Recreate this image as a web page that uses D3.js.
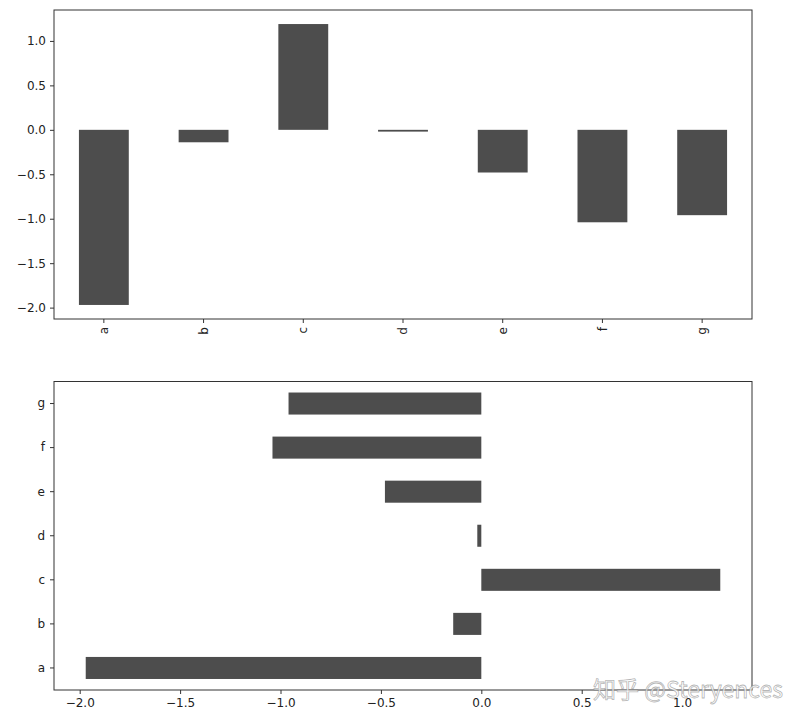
<!DOCTYPE html>
<html>
<head>
<meta charset="utf-8">
<script src="https://cdn.jsdelivr.net/npm/d3@7"></script>
<style>
  body { margin: 0; background: #fff; }
  svg text { font-family: "DejaVu Sans", sans-serif; }
</style>
</head>
<body>
<svg id="chart" width="804" height="725"></svg>
<script>
// data
const categories = ['a', 'b', 'c', 'd', 'e', 'f', 'g'];
const values = [-1.97, -0.14, 1.19, -0.02, -0.48, -1.04, -0.96];
const tickValues = [-2.0, -1.5, -1.0, -0.5, 0.0, 0.5, 1.0];

const barColor = '#4d4d4d';
const axisColor = '#333';
const fmt = d => d3.format('.1f')(d).replace('-', '\u2212');

const svg = d3.select('#chart');

// matplotlib-like 5% margin around the data
const lo = d3.min(values.concat([0])), hi = d3.max(values.concat([0]));
const pad = (hi - lo) * 0.05;
const valueDomain = [lo - pad, hi + pad];

// ---------- top: vertical bars ----------
let box1 = {left: 54, right: 752, top: 10, bottom: 319};

let x1 = d3.scaleBand()
    .domain(categories)
    .range([box1.left, box1.right])
    .paddingInner(0.5)
    .paddingOuter(0.25);

let y1 = d3.scaleLinear()
    .domain(valueDomain)
    .range([box1.bottom, box1.top]);

let g1 = svg.append('g');

g1.selectAll('rect')
    .data(values)
    .enter().append('rect')
    .attr('x', (d, i) => x1(categories[i]))
    .attr('width', x1.bandwidth())
    .attr('y', d => y1(Math.max(0, d)))
    .attr('height', d => Math.max(1, Math.abs(y1(d) - y1(0))))
    .attr('fill', barColor);

g1.append('g')
    .attr('transform', 'translate(' + box1.left + ',0)')
    .call(d3.axisLeft(y1).tickValues(tickValues).tickFormat(fmt).tickSize(4).tickPadding(4));

let xAxis1 = g1.append('g')
    .attr('transform', 'translate(0,' + box1.bottom + ')')
    .call(d3.axisBottom(x1).tickSize(4).tickPadding(4));

xAxis1.selectAll('text')
    .attr('transform', 'rotate(-90)')
    .attr('x', -8)
    .attr('y', 0)
    .attr('dy', '0.35em')
    .attr('text-anchor', 'end');

g1.append('rect')
    .attr('x', box1.left)
    .attr('y', box1.top)
    .attr('width', box1.right - box1.left)
    .attr('height', box1.bottom - box1.top)
    .attr('fill', 'none')
    .attr('stroke', axisColor)
    .attr('stroke-width', 1);

// ---------- bottom: horizontal bars ----------
let box2 = {left: 54, right: 752, top: 381.5, bottom: 690};

let y2 = d3.scaleBand()
    .domain(categories.slice().reverse())
    .range([box2.top, box2.bottom])
    .paddingInner(0.5)
    .paddingOuter(0.25);

let x2 = d3.scaleLinear()
    .domain(valueDomain)
    .range([box2.left, box2.right]);

let g2 = svg.append('g');

g2.selectAll('rect')
    .data(values)
    .enter().append('rect')
    .attr('y', (d, i) => y2(categories[i]))
    .attr('height', y2.bandwidth())
    .attr('x', d => x2(Math.min(0, d)))
    .attr('width', d => Math.max(1, Math.abs(x2(d) - x2(0))))
    .attr('fill', barColor);

g2.append('g')
    .attr('transform', 'translate(' + box2.left + ',0)')
    .call(d3.axisLeft(y2).tickSize(4).tickPadding(5));

g2.append('g')
    .attr('transform', 'translate(0,' + box2.bottom + ')')
    .call(d3.axisBottom(x2).tickValues(tickValues).tickFormat(fmt).tickSize(4).tickPadding(4));

g2.append('rect')
    .attr('x', box2.left)
    .attr('y', box2.top)
    .attr('width', box2.right - box2.left)
    .attr('height', box2.bottom - box2.top)
    .attr('fill', 'none')
    .attr('stroke', axisColor)
    .attr('stroke-width', 1);

// axis styling
svg.selectAll('.domain').remove();
svg.selectAll('.tick line').attr('stroke', axisColor);
svg.selectAll('.tick text')
    .attr('fill', '#222')
    .style('font-size', '12px');

// watermark
svg.append('text')
    .attr('x', 783)
    .attr('y', 698)
    .attr('text-anchor', 'end')
    .style('font-family', '"Noto Sans CJK SC", "Noto Sans", sans-serif')
    .style('font-size', '23px')
    .attr('fill', 'rgba(255,255,255,0.75)')
    .attr('stroke', 'rgba(120,120,120,0.55)')
    .attr('stroke-width', 0.8)
    .text('知乎 @Steryences');
</script>
</body>
</html>
